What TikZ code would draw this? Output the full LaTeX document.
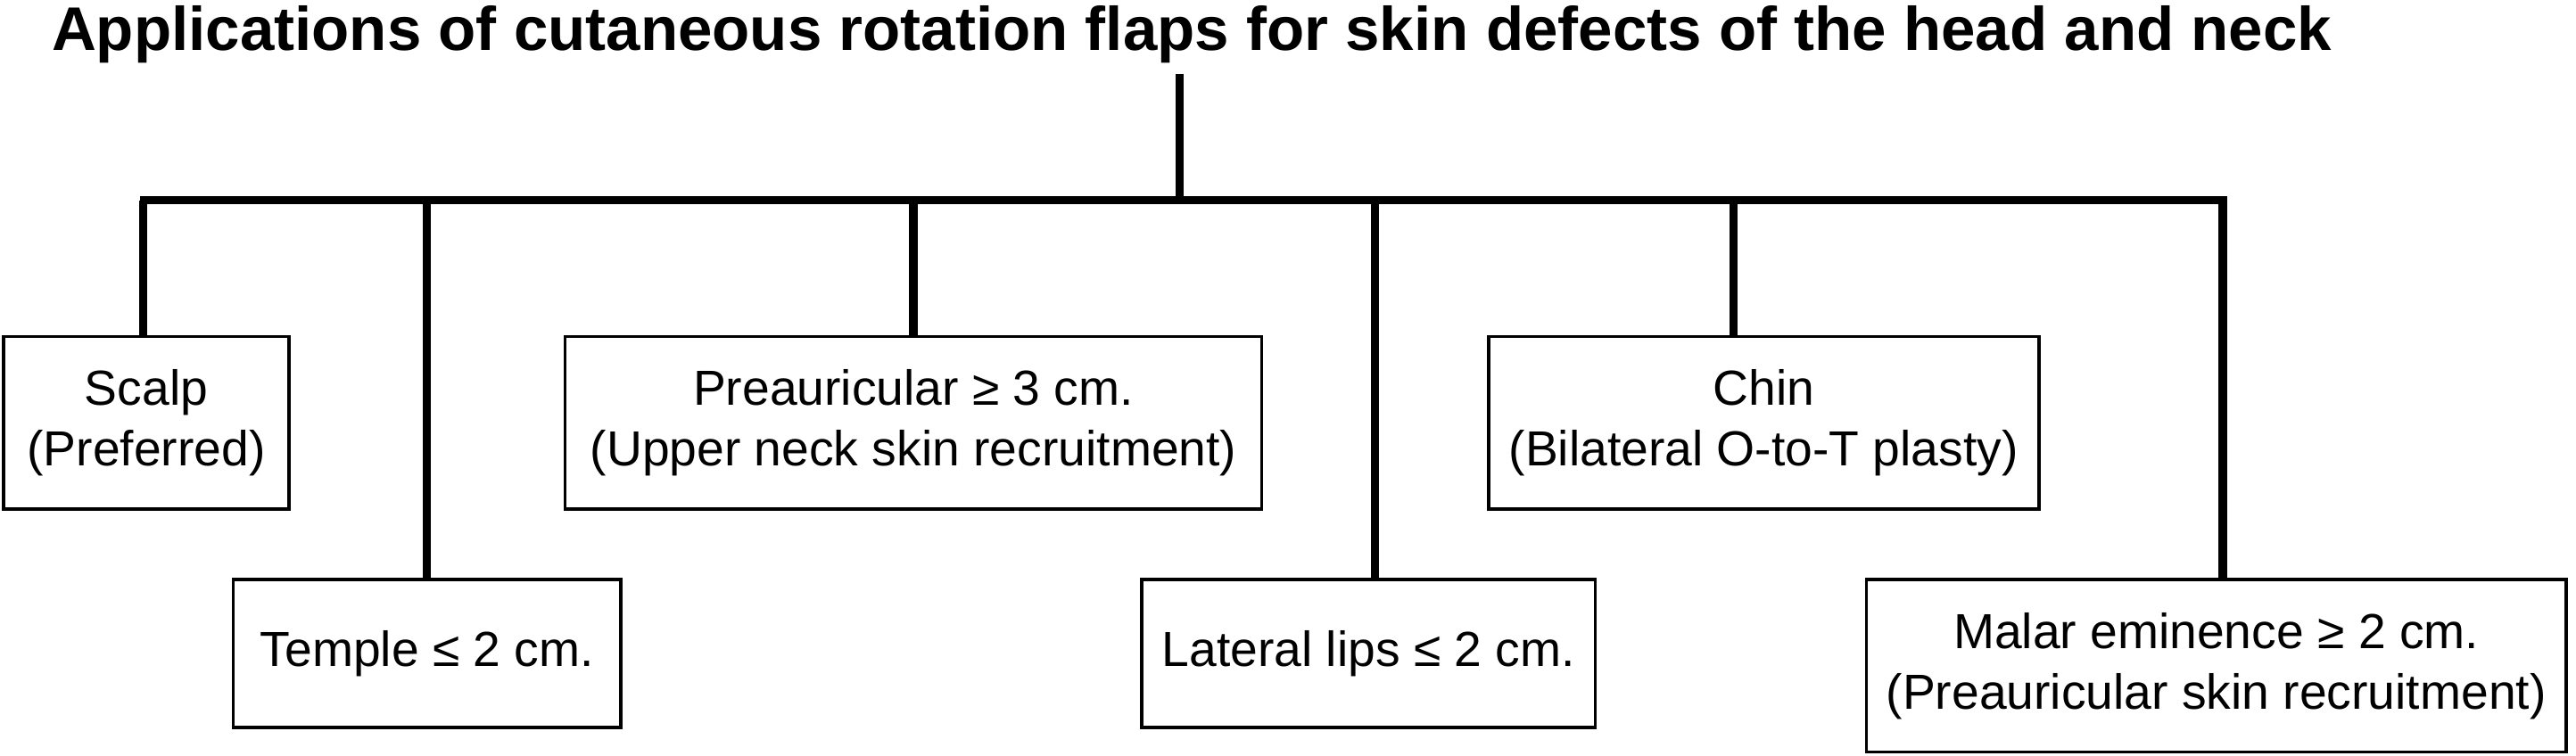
\documentclass[tikz,border=0pt]{standalone}
\usepackage{fontspec}
\setmainfont{Liberation Sans}
\begin{document}
\begin{tikzpicture}[x=1pt,y=-1pt,
  box/.style={draw,line width=2pt,align=center,inner sep=0pt,font=\fontsize{30}{37}\selectfont},
  conn/.style={line width=5pt}]
\useasboundingbox (0,0) rectangle (1568,460);
\node[font=\bfseries\fontsize{37.5}{40}\selectfont,anchor=west] (title) at (28,21) {Applications of cutaneous rotation flaps for skin defects of the head and neck};
\coordinate (top) at (718,45);
\coordinate (hub) at (718,122);
\node[box,minimum width=174pt,minimum height=105pt] (scalp) at (89,257.5) {Scalp\\(Preferred)};
\node[box,minimum width=236pt,minimum height=90pt] (temple) at (260,398) {Temple ≤ 2 cm.};
\node[box,minimum width=424pt,minimum height=105pt] (pre) at (556,257.5) {Preauricular ≥ 3 cm.\\(Upper neck skin recruitment)};
\node[box,minimum width=276pt,minimum height=90pt] (lips) at (833,398) {Lateral lips ≤ 2 cm.};
\node[box,minimum width=335pt,minimum height=105pt] (chin) at (1073.5,257.5) {Chin\\(Bilateral O-to-T plasty)};
\node[box,minimum width=426pt,minimum height=105pt] (malar) at (1349,405.5) {Malar eminence ≥ 2 cm.\\(Preauricular skin recruitment)};
\draw[conn] (top) -- (hub);
\draw[conn] (85.5,122) -- (1355.5,122);
\draw[conn] (87,122) -- (87,205);
\draw[conn] (260,122) -- (temple.north);
\draw[conn] (556,122) -- (pre.north);
\draw[conn] (837,122) -- (837,353);
\draw[conn] (1055,122) -- (1055,205);
\draw[conn] (1353,122) -- (1353,353);
\end{tikzpicture}
\end{document}
